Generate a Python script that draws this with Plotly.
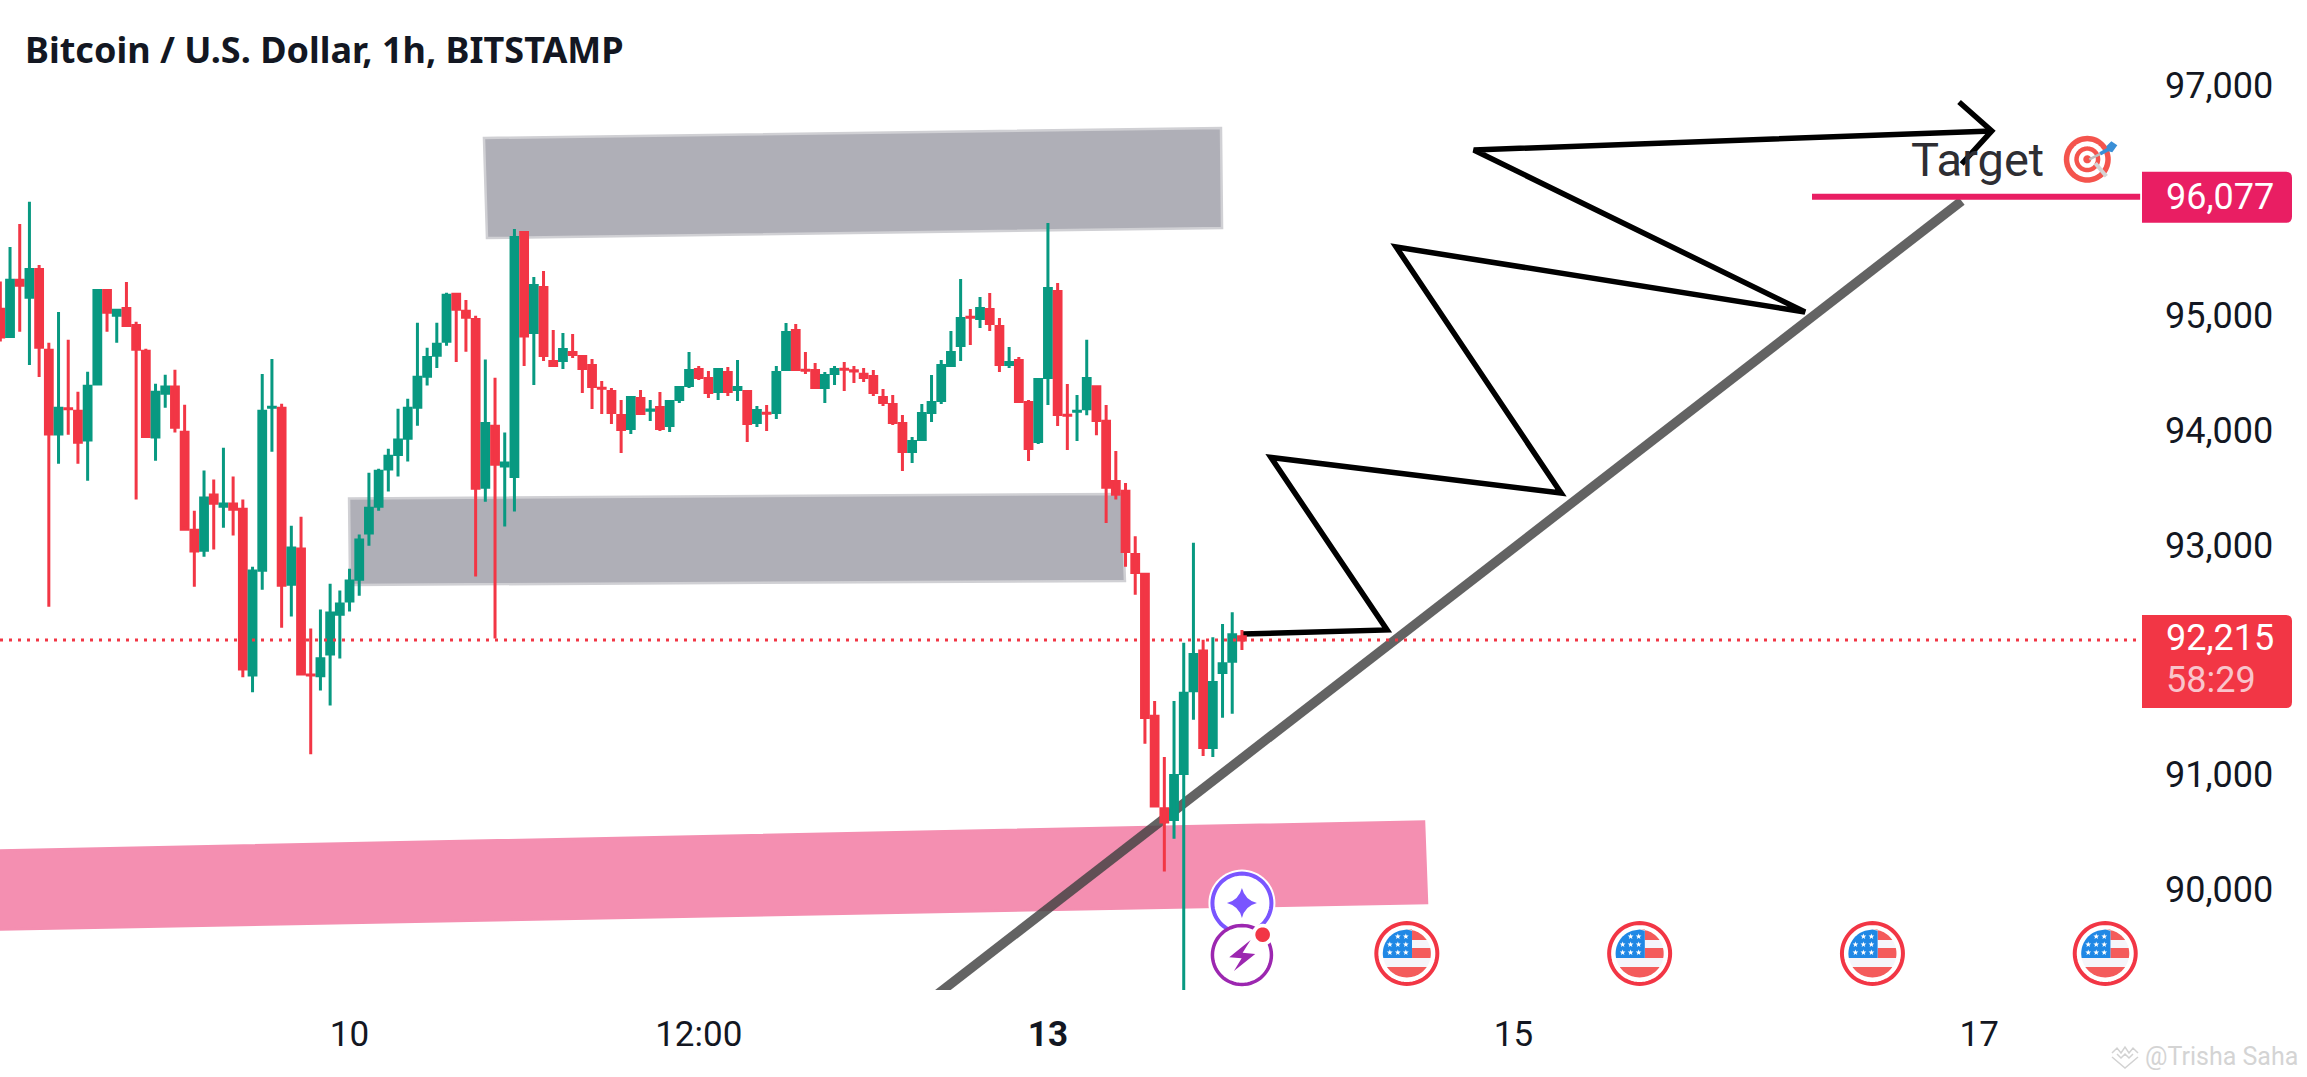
import math
import plotly.graph_objects as go

# ---- candle data (1h bars, prices) ----
direction = ("rgrgrrgrrg" "grgrrrggrr" "rgrgrrgggr" "grrggggggg" "gggggggrrr"
             "grggrgrrgr" "rrrrrgrgrg" "ggrrgrgrgr" "ggrrrggrrr" "rrrrgggggg"
             "rgrrgrrggr" "rggrrrrrrr" "rgggrgggr")
highs = [95339,95640,95840,96033,95483,94805,95073,94831,94379,94553,
         95273,95273,95100,95335,94988,94753,94448,94527,94569,94265,
         93341,93691,93613,93891,93639,93439,92853,94533,94664,94274,
         93210,93289,92316,92480,92706,92647,92837,93135,93672,93708,
         93881,94229,94317,94979,94762,94979,95241,95241,95178,95041,
         94658,94500,94022,95796,95779,95378,95430,94916,94890,94882,
         94699,94664,94472,94411,94307,94341,94394,94307,94376,94307,
         94429,94725,94603,94559,94585,94594,94655,94394,94254,94263,
         94603,94977,94969,94725,94629,94550,94603,94638,94603,94585,
         94568,94402,94350,94176,93984,94272,94524,94655,94908,95361,
         95099,95204,95239,95021,94768,94681,94307,94498,95849,95326,
         94446,94350,94831,94435,94262,93862,93582,93120,92800,91684,
         91195,91684,92191,93062,92217,92240,92355,92457,92302]
body_tops = [95096,95349,95349,95444,95444,94740,94235,94230,94209,94425,
             95260,95260,95087,95103,94956,94730,94373,94419,94419,94026,
             93171,93452,93479,93400,93400,93354,92817,94209,94243,94235,
             93017,93007,91911,92051,92450,92529,92729,93086,93364,93685,
             93816,93957,94235,94504,94677,94792,95218,95228,95080,95008,
             94102,94078,93757,95722,95766,95304,95287,94642,94747,94721,
             94686,94607,94409,94381,94172,94328,94320,94218,94241,94294,
             94416,94564,94572,94494,94572,94546,94416,94381,94215,94191,
             94546,94895,94912,94566,94564,94520,94572,94575,94560,94530,
             94511,94328,94267,94102,93945,94189,94285,94607,94721,95017,
             95028,95104,95095,94947,94633,94651,94285,94485,95278,95252,
             94174,94209,94494,94422,94120,93596,93511,92960,92787,91551,
             90746,91035,91751,92089,92120,91844,92009,92262,92244]
body_bottoms = [94854,94860,95306,95201,94766,94009,94009,94229,93937,93957,
                94445,95070,95044,94955,94749,93989,93983,94366,94068,93180,
                92990,92997,93406,93380,93354,91962,91910,92823,94242,92692,
                92702,91919,91910,91903,92093,92440,92555,92745,93148,93380,
                93704,93832,93973,94242,94513,94697,94818,95096,95028,93537,
                93547,93747,93731,93640,94863,94895,94694,94607,94651,94703,
                94581,94424,94408,94198,94050,94058,94189,94217,94058,94084,
                94311,94433,94503,94372,94381,94381,94398,94102,94111,94190,
                94198,94572,94572,94565,94415,94415,94537,94574,94559,94503,
                94372,94285,94111,93858,93858,93962,94198,94302,94607,94781,
                95027,95017,94973,94616,94616,94293,93884,93945,94503,94180,
                94173,94208,94231,94128,93546,93484,92986,92804,91541,90768,
                90630,90652,91052,91773,91279,91279,91933,92030,92215]
lows = [94815,94847,94900,94612,94507,92506,93750,94003,93750,93603,
        94432,94900,94805,94942,93439,93976,93777,94238,94022,93167,
        92679,92941,93004,93194,93125,91890,91759,92653,93855,92322,
        92421,91906,91219,91776,91645,92054,92463,92601,93036,93341,
        93508,93639,93770,94081,94432,94586,94779,94638,94726,92768,
        93420,92228,93203,93334,94603,94437,94646,94594,94577,94672,
        94368,94228,94185,94098,93845,94010,94176,94124,94037,94028,
        94280,94411,94481,94324,94307,94341,94298,93941,94071,94037,
        94141,94559,94559,94533,94402,94280,94437,94385,94455,94463,
        94341,94254,94089,93688,93758,93949,94115,94272,94594,94646,
        94786,94934,94908,94550,94585,94280,93775,93923,94263,94080,
        93871,93949,94173,94000,93235,93440,92853,92609,91311,90755,
        90199,90484,89160,91520,91204,91195,91537,91573,92128]

# ---- axis ticks ----
x_tick_bars = [36, 72, 108, 156, 204]
x_tick_text = ["10", "12:00", "<b>13</b>", "15", "17"]
y_tick_vals = [90000, 91000, 93000, 94000, 95000, 97000]

# ---- drawing overlays, in (bar, price) ----
zone_upper_bars = [49.86, 125.84, 125.95, 50.17]
zone_upper_prices = [96589, 96676, 95805, 95718]
zone_middle_bars = [35.95, 115.63, 115.94, 36.05]
zone_middle_prices = [93449, 93487, 92729, 92695]
zone_pink_bars = [-1.0, 146.77, 147.08, -1.0]
zone_pink_prices = [90380, 90634, 89924, 89692]
trend_bars = [94.97, 202.2]
trend_prices = [89022, 96040]
zigzag_bars = [128.1, 142.96, 131.0, 160.9, 143.9, 186.05, 151.9, 205.3]
zigzag_prices = [92268, 92303, 93805, 93496, 95639, 95073, 96484, 96650]
arrow_bars = [201.93, 205.3, 202.2]
arrow_prices = [96902, 96650, 96362]
target_bars = [186.77, 220.6]
target_price = 96077
last_price = 92215
countdown = "58:29"
event_bars = [145, 169, 193, 217]
special_bar = 128
special_prices = [89923, 89471]
event_price = 89484
target_icon_bar = 215.15
target_icon_price = 96403

GREEN, RED = "#089981", "#F23645"
INK = "#131722"
FONT = "Roboto"

opens = [t if d == "r" else b for d, t, b in zip(direction, body_tops, body_bottoms)]
closes = [b if d == "r" else t for d, t, b in zip(direction, body_tops, body_bottoms)]

fig = go.Figure(go.Candlestick(
    x=list(range(len(direction))), open=opens, high=highs, low=lows, close=closes,
    increasing=dict(line=dict(color=GREEN, width=3), fillcolor=GREEN),
    decreasing=dict(line=dict(color=RED, width=3), fillcolor=RED),
    whiskerwidth=0, showlegend=False, hoverinfo="skip",
))

shapes = []


def poly(bars, prices, closed=True):
    p = " L ".join(f"{b},{v}" for b, v in zip(bars, prices))
    return "M " + p + (" Z" if closed else "")


def add_zone(bars, prices, color, line):
    shapes.append(dict(type="path", path=poly(bars, prices), xref="x", yref="y", layer="below",
                       fillcolor=color, line=dict(color=line, width=2.5)))


add_zone(zone_upper_bars, zone_upper_prices, "#AFAFB7", "#D0D0D4")
add_zone(zone_middle_bars, zone_middle_prices, "#AFAFB7", "#D0D0D4")
add_zone(zone_pink_bars, zone_pink_prices, "#F48FB1", "#F48FB1")
shapes.append(dict(type="line", x0=trend_bars[0], x1=trend_bars[1], y0=trend_prices[0], y1=trend_prices[1],
                   xref="x", yref="y", layer="below", opacity=0.82, line=dict(color="#424242", width=9.5)))
shapes.append(dict(type="path", path=poly(zigzag_bars, zigzag_prices, False), xref="x", yref="y", layer="below",
                   line=dict(color="#000000", width=5.5)))
shapes.append(dict(type="path", path=poly(arrow_bars, arrow_prices, False), xref="x", yref="y", layer="below",
                   line=dict(color="#000000", width=5.5)))
shapes.append(dict(type="line", x0=target_bars[0], x1=target_bars[1], y0=target_price, y1=target_price,
                   xref="x", yref="y", layer="below", line=dict(color="#E91E63", width=6)))
shapes.append(dict(type="line", x0=0, x1=1, y0=last_price, y1=last_price, xref="paper", yref="y",
                   line=dict(color=RED, width=3, dash="3px,6px")))


# ---- small pictograms: pixel-sized shapes anchored on a (bar, price) ----
def px_shape(anchor_x, anchor_y, pts, fill="rgba(0,0,0,0)", line=None, width=0, xref="x", yref="y",
             closed=True, raw=None):
    if raw is None:
        raw = "M " + " L ".join(f"{x:.2f},{-y:.2f}" for x, y in pts) + (" Z" if closed else "")
    shapes.append(dict(type="path", path=raw, xsizemode="pixel", ysizemode="pixel",
                       xanchor=anchor_x, yanchor=anchor_y, xref=xref, yref=yref,
                       fillcolor=fill, line=dict(color=line or "rgba(0,0,0,0)", width=width)))


def circle(r, n=64, cx=0, cy=0):
    return [(cx + r * math.cos(2 * math.pi * i / n), cy + r * math.sin(2 * math.pi * i / n)) for i in range(n)]


def band(xa, xb, ya, yb, r, n=24):
    left, right = [], []
    for i in range(n + 1):
        y = ya + (yb - ya) * i / n
        h = math.sqrt(max(r * r - y * y, 0))
        left.append((max(xa, -h), y))
        right.append((min(xb, h), y))
    return right + left[::-1]


def star(cx, cy, r=3.0):
    pts = []
    for i in range(10):
        a = -math.pi / 2 + i * math.pi / 5
        rr = r if i % 2 == 0 else r * 0.42
        pts.append((cx + rr * math.cos(a), cy + rr * math.sin(a)))
    return pts


def flag_icon(bar):
    px_shape(bar, event_price, circle(30.5), fill="#FFFFFF", line=RED, width=4)
    red, light, blue = "#F45B5B", "#F5F5FA", "#2088E5"
    px_shape(bar, event_price, band(-24, 24, -24, 24, 24), fill=light)
    px_shape(bar, event_price, band(5.2, 24, -24, -13.5, 24), fill=red)
    px_shape(bar, event_price, band(5.2, 24, -5.5, 4.5, 24), fill=red)
    px_shape(bar, event_price, band(-24, 24, 13.5, 24, 24), fill=red)
    px_shape(bar, event_price, band(-24, 5.2, -24, 4.5, 24), fill=blue)
    for dy in (-17, -9, -1):
        for dx in (-17, -9, -1):
            if dx == -17 and dy == -17:
                continue
            px_shape(bar, event_price, star(dx, dy), fill="#FFFFFF")


for b in event_bars:
    flag_icon(b)

# sparkle badge
px_shape(special_bar, special_prices[0], circle(33.5), fill="#FFFFFF")
px_shape(special_bar, special_prices[0], circle(29.5), fill="#FFFFFF", line="#7A55FF", width=4)
px_shape(special_bar, special_prices[0], None, fill="#7A55FF",
         raw="M 0,15 Q 3,3 15,0 Q 3,-3 0,-15 Q -3,-3 -15,0 Q -3,3 0,15 Z")
# lightning badge
px_shape(special_bar, special_prices[1], circle(29.5), fill="#FFFFFF", line="#9C27B0", width=3.5)
px_shape(special_bar, special_prices[1], circle(11, cx=20.7, cy=-20.3), fill="#FFFFFF")
px_shape(special_bar, special_prices[1], circle(7.3, cx=20.7, cy=-20.3), fill=RED)
px_shape(special_bar, special_prices[1],
         [(8.7, -15), (-12.7, 2.3), (-0.3, 3.3), (-8, 16), (13.3, -1), (0.7, -2.3)], fill="#9C27B0")

# target emoji stand-in
for rad, col in ((23.5, "#F4544D"), (18, "#FFFFFF"), (13, "#F4544D"), (8.5, "#FFFFFF"), (4, "#F4544D")):
    px_shape(target_icon_bar, target_icon_price, circle(rad), fill=col)
px_shape(target_icon_bar, target_icon_price, [(8, 4), (19, 17)], line="#D4D4D4", width=4, closed=False)
px_shape(target_icon_bar, target_icon_price, [(2, 0), (14, -6)], line="#BDBDBD", width=2.5, closed=False)
px_shape(target_icon_bar, target_icon_price, [(12, -7), (21, -12), (23, -9), (14, -4)], fill="#3A8FD6")
px_shape(target_icon_bar, target_icon_price, [(19, -13), (24, -18), (30, -14), (25, -7), (21, -8)], fill="#3A8FD6")

# price chips on the axis
def rounded_chip(top, bottom, color):
    w = 150
    r = 6
    raw = (f"M 0,{top} L {w - r},{top} Q {w},{top} {w},{top - r} L {w},{bottom + r} "
           f"Q {w},{bottom} {w - r},{bottom} L 0,{bottom} Z")
    shapes.append(dict(type="path", path=raw, xsizemode="pixel", ysizemode="pixel", xanchor=1,
                       yanchor=target_price if color == "#E91E63" else last_price, xref="paper", yref="y",
                       fillcolor=color, line=dict(color=color, width=0)))


rounded_chip(25, -26, "#E91E63")
rounded_chip(25, -68, RED)

# watermark pictogram
W = dict(xref="paper", yref="paper")
wm_x, wm_y = 2125 / 2142, (990 - 1056) / 990
for pts in ([(-13, -3), (-8, -8), (-4, -3), (0, -9), (4, -3), (8, -8), (13, -3)],
            [(-8, -2), (-4, 2), (0, -2), (4, 2), (8, -2)],
            [(-13, 1), (0, 12), (13, 1)]):
    px_shape(wm_x, wm_y, pts, line="#D2D2D2", width=1.5, closed=False, **W)

annotations = [
    dict(text="<b>Bitcoin / U.S. Dollar, 1h, BITSTAMP</b>", x=23 / 2142, y=(990 - 49.5) / 990, xref="paper",
         yref="paper", xanchor="left", yanchor="middle", showarrow=False,
         font=dict(family="Noto Sans", size=36, color=INK)),
    dict(text="Target", x=(1909 - 0.33) / 9.7, y=target_icon_price, xref="x", yref="y", xanchor="left",
         yanchor="middle", showarrow=False, font=dict(family=FONT, size=47, color="#2E2E33")),
    dict(text=f"{target_price:,}", x=1, xshift=22, y=target_price, xref="paper", yref="y", xanchor="left",
         yanchor="middle", showarrow=False, font=dict(family=FONT, size=36, color="#FFFFFF")),
    dict(text=f"{last_price:,}", x=1, xshift=22, y=last_price, yshift=2, xref="paper", yref="y", xanchor="left",
         yanchor="middle", showarrow=False, font=dict(family=FONT, size=36, color="#FFFFFF")),
    dict(text=countdown, x=1, xshift=22, y=last_price, yshift=-40, xref="paper", yref="y", xanchor="left",
         yanchor="middle", showarrow=False, font=dict(family=FONT, size=36, color="#F9C4CB")),
    dict(text="@Trisha Saha", x=2143 / 2142, y=(990 - 1056) / 990, xref="paper", yref="paper", xanchor="left",
         yanchor="middle", showarrow=False, font=dict(family=FONT, size=25, color="#D4D4D4")),
]

fig.update_layout(
    width=2307, height=1077, autosize=False,
    margin=dict(l=0, r=165, t=0, b=87, pad=0),
    paper_bgcolor="#FFFFFF", plot_bgcolor="#FFFFFF",
    boxgap=0.3, boxgroupgap=0,
    shapes=shapes, annotations=annotations, showlegend=False,
    xaxis=dict(range=[-0.034, 220.79], rangeslider=dict(visible=False), tickmode="array",
               tickvals=x_tick_bars, ticktext=x_tick_text, showgrid=False, zeroline=False, showline=False,
               ticks="", ticklabelstandoff=20, tickfont=dict(family=FONT, size=35, color=INK)),
    yaxis=dict(range=[89166, 97791], side="right", tickmode="array", tickvals=y_tick_vals,
               tickformat=",d", showgrid=False, zeroline=False, showline=False, ticks="",
               ticklabelstandoff=22, ticklabelshift=-5, tickfont=dict(family=FONT, size=36, color=INK)),
)
fig.write_html("out.html", config=dict(displayModeBar=False),
               post_script="document.body.style.margin='0';document.body.style.overflow='hidden';")
